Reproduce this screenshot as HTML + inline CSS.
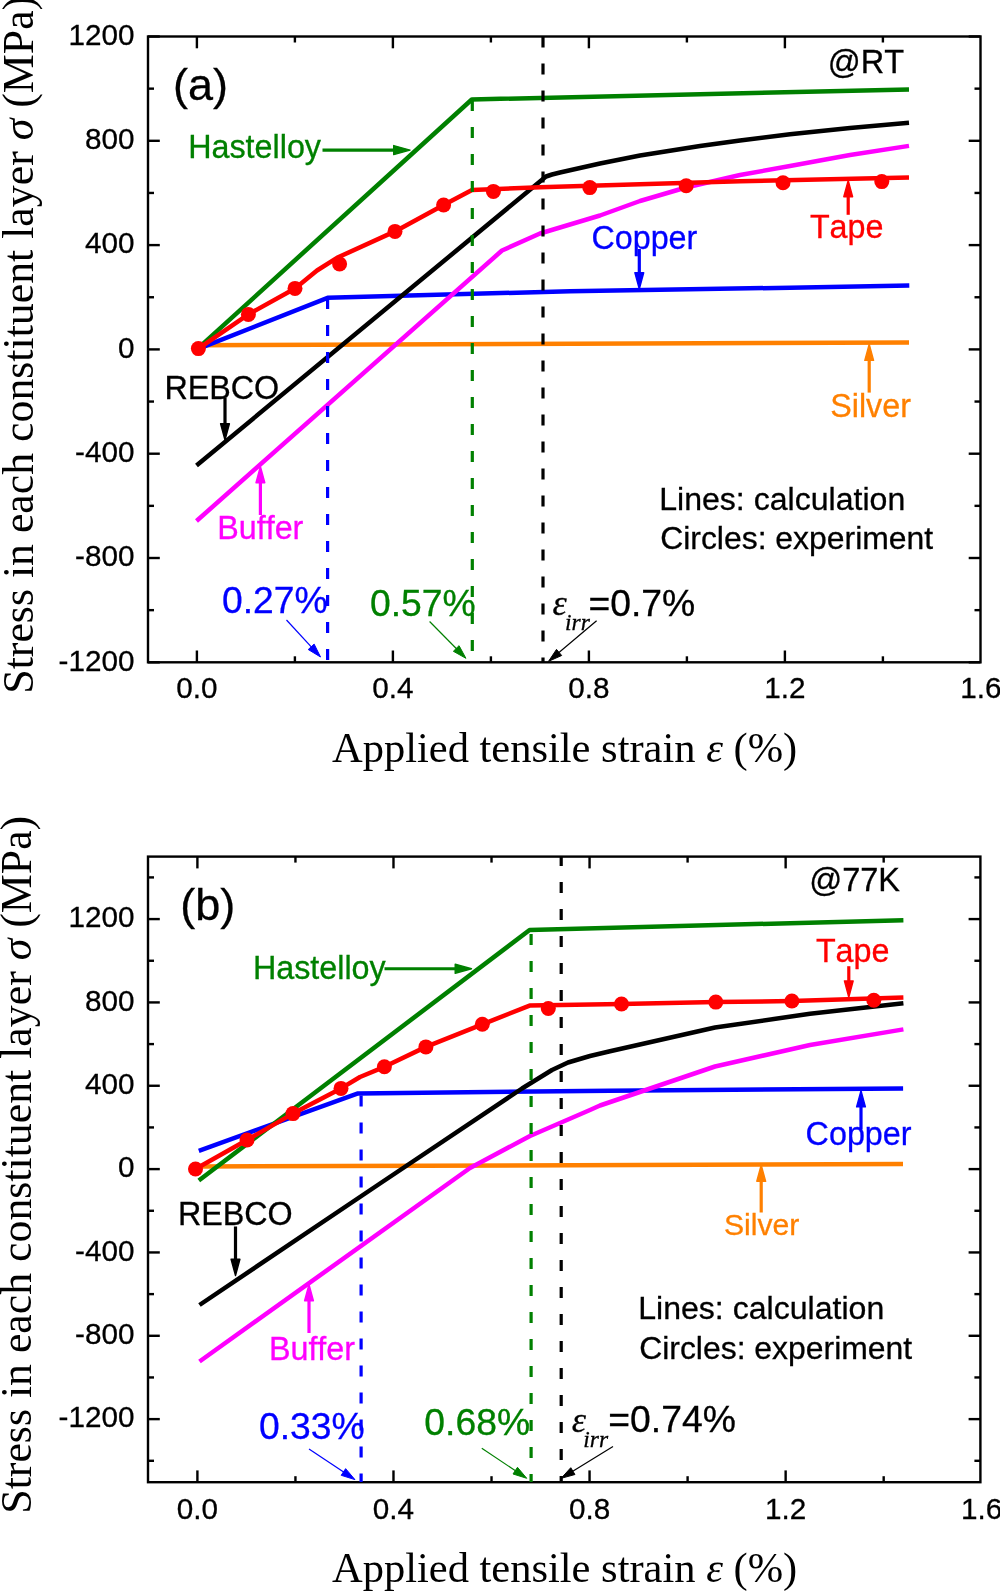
<!DOCTYPE html>
<html><head><meta charset="utf-8"><style>
html,body{margin:0;padding:0;background:#fff;}
svg{display:block;will-change:transform;} text{font-kerning:none;}
</style></head><body>
<svg width="1000" height="1591" viewBox="0 0 1000 1591">
<rect width="1000" height="1591" fill="#fff"/>
<rect x="148" y="36.5" width="832.5" height="625.8" fill="none" stroke="#000" stroke-width="2.4"/>
<line x1="196.9" y1="662.3" x2="196.9" y2="650.5" stroke="#000000" stroke-width="2.4" />
<line x1="196.9" y1="36.5" x2="196.9" y2="48.3" stroke="#000000" stroke-width="2.4" />
<line x1="294.9" y1="662.3" x2="294.9" y2="656.3" stroke="#000000" stroke-width="2.4" />
<line x1="294.9" y1="36.5" x2="294.9" y2="42.5" stroke="#000000" stroke-width="2.4" />
<line x1="392.9" y1="662.3" x2="392.9" y2="650.5" stroke="#000000" stroke-width="2.4" />
<line x1="392.9" y1="36.5" x2="392.9" y2="48.3" stroke="#000000" stroke-width="2.4" />
<line x1="490.9" y1="662.3" x2="490.9" y2="656.3" stroke="#000000" stroke-width="2.4" />
<line x1="490.9" y1="36.5" x2="490.9" y2="42.5" stroke="#000000" stroke-width="2.4" />
<line x1="588.9" y1="662.3" x2="588.9" y2="650.5" stroke="#000000" stroke-width="2.4" />
<line x1="588.9" y1="36.5" x2="588.9" y2="48.3" stroke="#000000" stroke-width="2.4" />
<line x1="686.9" y1="662.3" x2="686.9" y2="656.3" stroke="#000000" stroke-width="2.4" />
<line x1="686.9" y1="36.5" x2="686.9" y2="42.5" stroke="#000000" stroke-width="2.4" />
<line x1="784.9" y1="662.3" x2="784.9" y2="650.5" stroke="#000000" stroke-width="2.4" />
<line x1="784.9" y1="36.5" x2="784.9" y2="48.3" stroke="#000000" stroke-width="2.4" />
<line x1="882.9" y1="662.3" x2="882.9" y2="656.3" stroke="#000000" stroke-width="2.4" />
<line x1="882.9" y1="36.5" x2="882.9" y2="42.5" stroke="#000000" stroke-width="2.4" />
<line x1="148" y1="662.3" x2="159.8" y2="662.3" stroke="#000000" stroke-width="2.4" />
<line x1="980.5" y1="662.3" x2="968.7" y2="662.3" stroke="#000000" stroke-width="2.4" />
<line x1="148" y1="558" x2="159.8" y2="558" stroke="#000000" stroke-width="2.4" />
<line x1="980.5" y1="558" x2="968.7" y2="558" stroke="#000000" stroke-width="2.4" />
<line x1="148" y1="453.7" x2="159.8" y2="453.7" stroke="#000000" stroke-width="2.4" />
<line x1="980.5" y1="453.7" x2="968.7" y2="453.7" stroke="#000000" stroke-width="2.4" />
<line x1="148" y1="349.4" x2="159.8" y2="349.4" stroke="#000000" stroke-width="2.4" />
<line x1="980.5" y1="349.4" x2="968.7" y2="349.4" stroke="#000000" stroke-width="2.4" />
<line x1="148" y1="245.1" x2="159.8" y2="245.1" stroke="#000000" stroke-width="2.4" />
<line x1="980.5" y1="245.1" x2="968.7" y2="245.1" stroke="#000000" stroke-width="2.4" />
<line x1="148" y1="140.8" x2="159.8" y2="140.8" stroke="#000000" stroke-width="2.4" />
<line x1="980.5" y1="140.8" x2="968.7" y2="140.8" stroke="#000000" stroke-width="2.4" />
<line x1="148" y1="36.5" x2="159.8" y2="36.5" stroke="#000000" stroke-width="2.4" />
<line x1="980.5" y1="36.5" x2="968.7" y2="36.5" stroke="#000000" stroke-width="2.4" />
<line x1="148" y1="610.15" x2="154" y2="610.15" stroke="#000000" stroke-width="2.4" />
<line x1="980.5" y1="610.15" x2="974.5" y2="610.15" stroke="#000000" stroke-width="2.4" />
<line x1="148" y1="505.85" x2="154" y2="505.85" stroke="#000000" stroke-width="2.4" />
<line x1="980.5" y1="505.85" x2="974.5" y2="505.85" stroke="#000000" stroke-width="2.4" />
<line x1="148" y1="401.55" x2="154" y2="401.55" stroke="#000000" stroke-width="2.4" />
<line x1="980.5" y1="401.55" x2="974.5" y2="401.55" stroke="#000000" stroke-width="2.4" />
<line x1="148" y1="297.25" x2="154" y2="297.25" stroke="#000000" stroke-width="2.4" />
<line x1="980.5" y1="297.25" x2="974.5" y2="297.25" stroke="#000000" stroke-width="2.4" />
<line x1="148" y1="192.95" x2="154" y2="192.95" stroke="#000000" stroke-width="2.4" />
<line x1="980.5" y1="192.95" x2="974.5" y2="192.95" stroke="#000000" stroke-width="2.4" />
<line x1="148" y1="88.65" x2="154" y2="88.65" stroke="#000000" stroke-width="2.4" />
<line x1="980.5" y1="88.65" x2="974.5" y2="88.65" stroke="#000000" stroke-width="2.4" />
<text x="134.5" y="44.8" font-family='"Liberation Sans", sans-serif' font-size="29.7" fill="#000000" stroke="#000000" stroke-width="0.3" text-anchor="end" >1200</text>
<text x="134.5" y="149.1" font-family='"Liberation Sans", sans-serif' font-size="29.7" fill="#000000" stroke="#000000" stroke-width="0.3" text-anchor="end" >800</text>
<text x="134.5" y="253.4" font-family='"Liberation Sans", sans-serif' font-size="29.7" fill="#000000" stroke="#000000" stroke-width="0.3" text-anchor="end" >400</text>
<text x="134.5" y="357.7" font-family='"Liberation Sans", sans-serif' font-size="29.7" fill="#000000" stroke="#000000" stroke-width="0.3" text-anchor="end" >0</text>
<text x="134.5" y="462" font-family='"Liberation Sans", sans-serif' font-size="29.7" fill="#000000" stroke="#000000" stroke-width="0.3" text-anchor="end" >-400</text>
<text x="134.5" y="566.3" font-family='"Liberation Sans", sans-serif' font-size="29.7" fill="#000000" stroke="#000000" stroke-width="0.3" text-anchor="end" >-800</text>
<text x="134.5" y="670.6" font-family='"Liberation Sans", sans-serif' font-size="29.7" fill="#000000" stroke="#000000" stroke-width="0.3" text-anchor="end" >-1200</text>
<text x="196.9" y="698.1" font-family='"Liberation Sans", sans-serif' font-size="29.7" fill="#000000" stroke="#000000" stroke-width="0.3" text-anchor="middle" >0.0</text>
<text x="392.9" y="698.1" font-family='"Liberation Sans", sans-serif' font-size="29.7" fill="#000000" stroke="#000000" stroke-width="0.3" text-anchor="middle" >0.4</text>
<text x="588.9" y="698.1" font-family='"Liberation Sans", sans-serif' font-size="29.7" fill="#000000" stroke="#000000" stroke-width="0.3" text-anchor="middle" >0.8</text>
<text x="784.9" y="698.1" font-family='"Liberation Sans", sans-serif' font-size="29.7" fill="#000000" stroke="#000000" stroke-width="0.3" text-anchor="middle" >1.2</text>
<text x="980.9" y="698.1" font-family='"Liberation Sans", sans-serif' font-size="29.7" fill="#000000" stroke="#000000" stroke-width="0.3" text-anchor="middle" >1.6</text>
<path d="M196.9 345.2 L909 342.5" fill="none" stroke="#FF8000" stroke-width="4.5" stroke-linejoin="round" />
<path d="M196.9 349.4 L327.6 297.8 L570 291.2 L790 287.7 L909.3 285.6" fill="none" stroke="#0000FF" stroke-width="4.5" stroke-linejoin="round" />
<path d="M196.9 349.4 L471.8 99.5 L909 89.4" fill="none" stroke="#008000" stroke-width="4.5" stroke-linejoin="round" />
<path d="M196.5 465.5 L546 176.5 L552 174.5 L560 172.5 L600 163.5 L640 155.5 L700 146 L740 140.5 L790 134.3 L850 128 L909 122.8" fill="none" stroke="#000000" stroke-width="4.5" stroke-linejoin="round" />
<path d="M196.5 521 L502 250.5 L540 233.5 L600 215.5 L640 201 L686 187.5 L740 175 L790 166 L850 155 L909 145.9" fill="none" stroke="#FF00FF" stroke-width="4.5" stroke-linejoin="round" />
<path d="M198.4 348.6 L248.4 314.4 L295 288.5 L317 270.5 L337 257.8 L395 231.4 L443.6 205 L472 190 L540 187.2 L740 181.2 L909 177.6" fill="none" stroke="#FF0000" stroke-width="4.5" stroke-linejoin="round" />
<line x1="327.6" y1="298" x2="327.6" y2="662" stroke="#0000FF" stroke-width="3.2" stroke-dasharray="11 16" stroke-dashoffset="0"/>
<line x1="472.3" y1="100" x2="472.3" y2="662" stroke="#008000" stroke-width="3.2" stroke-dasharray="11 16" stroke-dashoffset="0"/>
<line x1="543" y1="36.5" x2="543" y2="662" stroke="#000000" stroke-width="3.2" stroke-dasharray="11 16" stroke-dashoffset="0"/>
<circle cx="198.4" cy="348.6" r="7.5" fill="#FF0000"/>
<circle cx="248.4" cy="314.4" r="7.5" fill="#FF0000"/>
<circle cx="295" cy="288.4" r="7.5" fill="#FF0000"/>
<circle cx="339.6" cy="264" r="7.5" fill="#FF0000"/>
<circle cx="395" cy="231.4" r="7.5" fill="#FF0000"/>
<circle cx="443.6" cy="205" r="7.5" fill="#FF0000"/>
<circle cx="493.4" cy="191.4" r="7.5" fill="#FF0000"/>
<circle cx="589.8" cy="187.6" r="7.5" fill="#FF0000"/>
<circle cx="686.2" cy="185.8" r="7.5" fill="#FF0000"/>
<circle cx="783" cy="182.8" r="7.5" fill="#FF0000"/>
<circle cx="881.8" cy="181.6" r="7.5" fill="#FF0000"/>
<text x="172.9" y="99.5" font-family='"Liberation Sans", sans-serif' font-size="45" fill="#000000" stroke="#000000" stroke-width="0.3" text-anchor="start" >(a)</text>
<text x="188.2" y="157.9" font-family='"Liberation Sans", sans-serif' font-size="32.3" fill="#008000" stroke="#008000" stroke-width="0.3" text-anchor="start" >Hastelloy</text>
<line x1="322.5" y1="150.1" x2="396" y2="150.1" stroke="#008000" stroke-width="3.2" />
<path d="M410.02 150.1 L393.7 154.65 L393.7 145.55 Z" fill="#008000" stroke="#008000" stroke-width="1.4" stroke-linejoin="round"/>
<text x="827.8" y="73" font-family='"Liberation Sans", sans-serif' font-size="32.5" fill="#000000" stroke="#000000" stroke-width="0.3" text-anchor="start" >@RT</text>
<text x="809.9" y="238" font-family='"Liberation Sans", sans-serif' font-size="32.3" fill="#FF0000" stroke="#FF0000" stroke-width="0.3" text-anchor="start" >Tape</text>
<line x1="848.2" y1="214.8" x2="848.2" y2="194.5" stroke="#FF0000" stroke-width="3.2" />
<path d="M848.2 180.48 L852.6 196.8 L843.8 196.8 Z" fill="#FF0000" stroke="#FF0000" stroke-width="1.4" stroke-linejoin="round"/>
<text x="591.4" y="248.8" font-family='"Liberation Sans", sans-serif' font-size="32.3" fill="#0000FF" stroke="#0000FF" stroke-width="0.3" text-anchor="start" >Copper</text>
<line x1="639.3" y1="249" x2="639.3" y2="275" stroke="#0000FF" stroke-width="3.2" />
<path d="M639.3 289.02 L634.9 272.7 L643.7 272.7 Z" fill="#0000FF" stroke="#0000FF" stroke-width="1.4" stroke-linejoin="round"/>
<text x="164.4" y="399.3" font-family='"Liberation Sans", sans-serif' font-size="32.3" fill="#000000" stroke="#000000" stroke-width="0.3" text-anchor="start" >REBCO</text>
<line x1="225" y1="398" x2="225" y2="426" stroke="#000000" stroke-width="3.2" />
<path d="M225 440.02 L220.6 423.7 L229.4 423.7 Z" fill="#000000" stroke="#000000" stroke-width="1.4" stroke-linejoin="round"/>
<text x="830.2" y="416.7" font-family='"Liberation Sans", sans-serif' font-size="32.3" fill="#FF8000" stroke="#FF8000" stroke-width="0.3" text-anchor="start" >Silver</text>
<line x1="869.2" y1="392.6" x2="869.2" y2="358.1" stroke="#FF8000" stroke-width="3.2" />
<path d="M869.2 344.08 L873.6 360.4 L864.8 360.4 Z" fill="#FF8000" stroke="#FF8000" stroke-width="1.4" stroke-linejoin="round"/>
<text x="217.2" y="538.7" font-family='"Liberation Sans", sans-serif' font-size="32.3" fill="#FF00FF" stroke="#FF00FF" stroke-width="0.3" text-anchor="start" >Buffer</text>
<line x1="260.4" y1="515" x2="260.4" y2="480.5" stroke="#FF00FF" stroke-width="3.2" />
<path d="M260.4 466.48 L264.8 482.8 L256 482.8 Z" fill="#FF00FF" stroke="#FF00FF" stroke-width="1.4" stroke-linejoin="round"/>
<text x="659.2" y="510" font-family='"Liberation Sans", sans-serif' font-size="32.1" fill="#000000" stroke="#000000" stroke-width="0.3" text-anchor="start" >Lines: calculation</text>
<text x="660.2" y="549.4" font-family='"Liberation Sans", sans-serif' font-size="31.9" fill="#000000" stroke="#000000" stroke-width="0.3" text-anchor="start" >Circles: experiment</text>
<text x="222" y="613.4" font-family='"Liberation Sans", sans-serif' font-size="37.3" fill="#0000FF" stroke="#0000FF" stroke-width="0.3" text-anchor="start" >0.27%</text>
<line x1="286.5" y1="620" x2="312.88" y2="648.67" stroke="#0000FF" stroke-width="1.2" />
<path d="M320.53 656.98 L308.24 649.54 L314.13 644.12 Z" fill="#0000FF" stroke="#0000FF" stroke-width="1.0" stroke-linejoin="round"/>
<text x="370" y="616.4" font-family='"Liberation Sans", sans-serif' font-size="37.3" fill="#008000" stroke="#008000" stroke-width="0.3" text-anchor="start" >0.57%</text>
<line x1="429.6" y1="621.5" x2="457.97" y2="650.26" stroke="#008000" stroke-width="1.2" />
<path d="M465.91 658.3 L453.37 651.29 L459.06 645.67 Z" fill="#008000" stroke="#008000" stroke-width="1.0" stroke-linejoin="round"/>
<text x="552.5" y="615" font-family='"Liberation Serif", serif' font-size="36" fill="#000000" stroke="#000000" stroke-width="0.3" text-anchor="start" font-style="italic">ε</text>
<text x="565" y="630" font-family='"Liberation Serif", serif' font-size="23.5" fill="#000000" stroke="#000000" stroke-width="0.3" text-anchor="start" font-style="italic">irr</text>
<text x="588.4" y="616" font-family='"Liberation Sans", sans-serif' font-size="37.3" fill="#000000" stroke="#000000" stroke-width="0.3" text-anchor="start" >=0.7%</text>
<line x1="596.6" y1="620.8" x2="557.17" y2="654.06" stroke="#000000" stroke-width="1.2" />
<path d="M548.54 661.35 L556.5 649.39 L561.66 655.51 Z" fill="#000000" stroke="#000000" stroke-width="1.0" stroke-linejoin="round"/>
<text transform="translate(33,693.7) rotate(-90)" font-family='"Liberation Serif", serif' font-size="43.8" fill="#000">Stress in each constituent layer <tspan font-style="italic">σ</tspan> (MPa)</text>
<text x="332" y="761.5" font-family='"Liberation Serif", serif' font-size="42.5" fill="#000">Applied tensile strain <tspan font-style="italic">ε</tspan> (%)</text>
<rect x="148" y="856.6" width="832.4" height="625.6" fill="none" stroke="#000" stroke-width="2.4"/>
<line x1="197.4" y1="1482.2" x2="197.4" y2="1470.4" stroke="#000000" stroke-width="2.4" />
<line x1="197.4" y1="856.6" x2="197.4" y2="868.4" stroke="#000000" stroke-width="2.4" />
<line x1="295.44" y1="1482.2" x2="295.44" y2="1476.2" stroke="#000000" stroke-width="2.4" />
<line x1="295.44" y1="856.6" x2="295.44" y2="862.6" stroke="#000000" stroke-width="2.4" />
<line x1="393.48" y1="1482.2" x2="393.48" y2="1470.4" stroke="#000000" stroke-width="2.4" />
<line x1="393.48" y1="856.6" x2="393.48" y2="868.4" stroke="#000000" stroke-width="2.4" />
<line x1="491.52" y1="1482.2" x2="491.52" y2="1476.2" stroke="#000000" stroke-width="2.4" />
<line x1="491.52" y1="856.6" x2="491.52" y2="862.6" stroke="#000000" stroke-width="2.4" />
<line x1="589.56" y1="1482.2" x2="589.56" y2="1470.4" stroke="#000000" stroke-width="2.4" />
<line x1="589.56" y1="856.6" x2="589.56" y2="868.4" stroke="#000000" stroke-width="2.4" />
<line x1="687.6" y1="1482.2" x2="687.6" y2="1476.2" stroke="#000000" stroke-width="2.4" />
<line x1="687.6" y1="856.6" x2="687.6" y2="862.6" stroke="#000000" stroke-width="2.4" />
<line x1="785.64" y1="1482.2" x2="785.64" y2="1470.4" stroke="#000000" stroke-width="2.4" />
<line x1="785.64" y1="856.6" x2="785.64" y2="868.4" stroke="#000000" stroke-width="2.4" />
<line x1="883.68" y1="1482.2" x2="883.68" y2="1476.2" stroke="#000000" stroke-width="2.4" />
<line x1="883.68" y1="856.6" x2="883.68" y2="862.6" stroke="#000000" stroke-width="2.4" />
<line x1="148" y1="1419.12" x2="159.8" y2="1419.12" stroke="#000000" stroke-width="2.4" />
<line x1="980.4" y1="1419.12" x2="968.6" y2="1419.12" stroke="#000000" stroke-width="2.4" />
<line x1="148" y1="1335.78" x2="159.8" y2="1335.78" stroke="#000000" stroke-width="2.4" />
<line x1="980.4" y1="1335.78" x2="968.6" y2="1335.78" stroke="#000000" stroke-width="2.4" />
<line x1="148" y1="1252.44" x2="159.8" y2="1252.44" stroke="#000000" stroke-width="2.4" />
<line x1="980.4" y1="1252.44" x2="968.6" y2="1252.44" stroke="#000000" stroke-width="2.4" />
<line x1="148" y1="1169.1" x2="159.8" y2="1169.1" stroke="#000000" stroke-width="2.4" />
<line x1="980.4" y1="1169.1" x2="968.6" y2="1169.1" stroke="#000000" stroke-width="2.4" />
<line x1="148" y1="1085.76" x2="159.8" y2="1085.76" stroke="#000000" stroke-width="2.4" />
<line x1="980.4" y1="1085.76" x2="968.6" y2="1085.76" stroke="#000000" stroke-width="2.4" />
<line x1="148" y1="1002.42" x2="159.8" y2="1002.42" stroke="#000000" stroke-width="2.4" />
<line x1="980.4" y1="1002.42" x2="968.6" y2="1002.42" stroke="#000000" stroke-width="2.4" />
<line x1="148" y1="919.08" x2="159.8" y2="919.08" stroke="#000000" stroke-width="2.4" />
<line x1="980.4" y1="919.08" x2="968.6" y2="919.08" stroke="#000000" stroke-width="2.4" />
<line x1="148" y1="1460.79" x2="154" y2="1460.79" stroke="#000000" stroke-width="2.4" />
<line x1="980.4" y1="1460.79" x2="974.4" y2="1460.79" stroke="#000000" stroke-width="2.4" />
<line x1="148" y1="1377.45" x2="154" y2="1377.45" stroke="#000000" stroke-width="2.4" />
<line x1="980.4" y1="1377.45" x2="974.4" y2="1377.45" stroke="#000000" stroke-width="2.4" />
<line x1="148" y1="1294.11" x2="154" y2="1294.11" stroke="#000000" stroke-width="2.4" />
<line x1="980.4" y1="1294.11" x2="974.4" y2="1294.11" stroke="#000000" stroke-width="2.4" />
<line x1="148" y1="1210.77" x2="154" y2="1210.77" stroke="#000000" stroke-width="2.4" />
<line x1="980.4" y1="1210.77" x2="974.4" y2="1210.77" stroke="#000000" stroke-width="2.4" />
<line x1="148" y1="1127.43" x2="154" y2="1127.43" stroke="#000000" stroke-width="2.4" />
<line x1="980.4" y1="1127.43" x2="974.4" y2="1127.43" stroke="#000000" stroke-width="2.4" />
<line x1="148" y1="1044.09" x2="154" y2="1044.09" stroke="#000000" stroke-width="2.4" />
<line x1="980.4" y1="1044.09" x2="974.4" y2="1044.09" stroke="#000000" stroke-width="2.4" />
<line x1="148" y1="960.75" x2="154" y2="960.75" stroke="#000000" stroke-width="2.4" />
<line x1="980.4" y1="960.75" x2="974.4" y2="960.75" stroke="#000000" stroke-width="2.4" />
<line x1="148" y1="877.41" x2="154" y2="877.41" stroke="#000000" stroke-width="2.4" />
<line x1="980.4" y1="877.41" x2="974.4" y2="877.41" stroke="#000000" stroke-width="2.4" />
<text x="134.5" y="927.38" font-family='"Liberation Sans", sans-serif' font-size="29.7" fill="#000000" stroke="#000000" stroke-width="0.3" text-anchor="end" >1200</text>
<text x="134.5" y="1010.72" font-family='"Liberation Sans", sans-serif' font-size="29.7" fill="#000000" stroke="#000000" stroke-width="0.3" text-anchor="end" >800</text>
<text x="134.5" y="1094.06" font-family='"Liberation Sans", sans-serif' font-size="29.7" fill="#000000" stroke="#000000" stroke-width="0.3" text-anchor="end" >400</text>
<text x="134.5" y="1177.4" font-family='"Liberation Sans", sans-serif' font-size="29.7" fill="#000000" stroke="#000000" stroke-width="0.3" text-anchor="end" >0</text>
<text x="134.5" y="1260.74" font-family='"Liberation Sans", sans-serif' font-size="29.7" fill="#000000" stroke="#000000" stroke-width="0.3" text-anchor="end" >-400</text>
<text x="134.5" y="1344.08" font-family='"Liberation Sans", sans-serif' font-size="29.7" fill="#000000" stroke="#000000" stroke-width="0.3" text-anchor="end" >-800</text>
<text x="134.5" y="1427.42" font-family='"Liberation Sans", sans-serif' font-size="29.7" fill="#000000" stroke="#000000" stroke-width="0.3" text-anchor="end" >-1200</text>
<text x="197.4" y="1518.6" font-family='"Liberation Sans", sans-serif' font-size="29.7" fill="#000000" stroke="#000000" stroke-width="0.3" text-anchor="middle" >0.0</text>
<text x="393.48" y="1518.6" font-family='"Liberation Sans", sans-serif' font-size="29.7" fill="#000000" stroke="#000000" stroke-width="0.3" text-anchor="middle" >0.4</text>
<text x="589.56" y="1518.6" font-family='"Liberation Sans", sans-serif' font-size="29.7" fill="#000000" stroke="#000000" stroke-width="0.3" text-anchor="middle" >0.8</text>
<text x="785.64" y="1518.6" font-family='"Liberation Sans", sans-serif' font-size="29.7" fill="#000000" stroke="#000000" stroke-width="0.3" text-anchor="middle" >1.2</text>
<text x="981.72" y="1518.6" font-family='"Liberation Sans", sans-serif' font-size="29.7" fill="#000000" stroke="#000000" stroke-width="0.3" text-anchor="middle" >1.6</text>
<path d="M197.4 1166.5 L903 1164" fill="none" stroke="#FF8000" stroke-width="4.5" stroke-linejoin="round" />
<path d="M198.8 1150.8 L358 1093.4 L610 1090.8 L903.1 1088.5" fill="none" stroke="#0000FF" stroke-width="4.5" stroke-linejoin="round" />
<path d="M198.8 1180.5 L529.6 930 L903.4 920.2" fill="none" stroke="#008000" stroke-width="4.5" stroke-linejoin="round" />
<path d="M199.5 1305 L380 1183.5 L522 1088.5 L552 1070 L568 1062.5 L590 1056 L610 1051.2 L715 1027.5 L810 1013.8 L903.4 1003.3" fill="none" stroke="#000000" stroke-width="4.5" stroke-linejoin="round" />
<path d="M199.5 1361.5 L470 1168 L530 1136 L590 1110 L600 1105.5 L715 1066.5 L810 1045 L903.4 1029.4" fill="none" stroke="#FF00FF" stroke-width="4.5" stroke-linejoin="round" />
<path d="M195.5 1169 L247 1140 L293 1113.6 L341 1088.4 L360 1077 L384.4 1066.8 L425.9 1046.9 L482.3 1024.3 L529.6 1005.6 L621.5 1004 L715.8 1002.1 L791.9 1001 L903.4 997.4" fill="none" stroke="#FF0000" stroke-width="4.5" stroke-linejoin="round" />
<line x1="361.1" y1="1095.4" x2="361.1" y2="1482" stroke="#0000FF" stroke-width="3.2" stroke-dasharray="11 16" stroke-dashoffset="0"/>
<line x1="531.1" y1="934" x2="531.1" y2="1482" stroke="#008000" stroke-width="3.2" stroke-dasharray="11 16" stroke-dashoffset="0"/>
<line x1="561.2" y1="856.6" x2="561.2" y2="1482" stroke="#000000" stroke-width="3.2" stroke-dasharray="11 16" stroke-dashoffset="1.5"/>
<circle cx="195.5" cy="1169" r="7.5" fill="#FF0000"/>
<circle cx="247" cy="1140" r="7.5" fill="#FF0000"/>
<circle cx="293" cy="1113.6" r="7.5" fill="#FF0000"/>
<circle cx="341" cy="1088.4" r="7.5" fill="#FF0000"/>
<circle cx="384.4" cy="1066.8" r="7.5" fill="#FF0000"/>
<circle cx="425.9" cy="1046.9" r="7.5" fill="#FF0000"/>
<circle cx="482.3" cy="1024.3" r="7.5" fill="#FF0000"/>
<circle cx="548.3" cy="1008.5" r="7.5" fill="#FF0000"/>
<circle cx="621.5" cy="1004" r="7.5" fill="#FF0000"/>
<circle cx="715.8" cy="1002.1" r="7.5" fill="#FF0000"/>
<circle cx="791.9" cy="1001" r="7.5" fill="#FF0000"/>
<circle cx="873.8" cy="1000.2" r="7.5" fill="#FF0000"/>
<text x="180.3" y="920" font-family='"Liberation Sans", sans-serif' font-size="45" fill="#000000" stroke="#000000" stroke-width="0.3" text-anchor="start" >(b)</text>
<text x="252.9" y="979.25" font-family='"Liberation Sans", sans-serif' font-size="32.3" fill="#008000" stroke="#008000" stroke-width="0.3" text-anchor="start" >Hastelloy</text>
<line x1="384.5" y1="968.75" x2="457.5" y2="968.75" stroke="#008000" stroke-width="3.2" />
<path d="M471.52 968.75 L455.2 973.3 L455.2 964.2 Z" fill="#008000" stroke="#008000" stroke-width="1.4" stroke-linejoin="round"/>
<text x="809.2" y="891" font-family='"Liberation Sans", sans-serif' font-size="32.5" fill="#000000" stroke="#000000" stroke-width="0.3" text-anchor="start" >@77K</text>
<text x="815.9" y="962.3" font-family='"Liberation Sans", sans-serif' font-size="32.3" fill="#FF0000" stroke="#FF0000" stroke-width="0.3" text-anchor="start" >Tape</text>
<line x1="848.8" y1="966.2" x2="848.8" y2="983.2" stroke="#FF0000" stroke-width="3.2" />
<path d="M848.8 997.22 L844.4 980.9 L853.2 980.9 Z" fill="#FF0000" stroke="#FF0000" stroke-width="1.4" stroke-linejoin="round"/>
<text x="805.6" y="1144.6" font-family='"Liberation Sans", sans-serif' font-size="32.3" fill="#0000FF" stroke="#0000FF" stroke-width="0.3" text-anchor="start" >Copper</text>
<line x1="861" y1="1129" x2="861" y2="1104.6" stroke="#0000FF" stroke-width="3.2" />
<path d="M861 1090.58 L865.4 1106.9 L856.6 1106.9 Z" fill="#0000FF" stroke="#0000FF" stroke-width="1.4" stroke-linejoin="round"/>
<text x="177.9" y="1225" font-family='"Liberation Sans", sans-serif' font-size="32.3" fill="#000000" stroke="#000000" stroke-width="0.3" text-anchor="start" >REBCO</text>
<line x1="235.5" y1="1226.5" x2="235.5" y2="1261.6" stroke="#000000" stroke-width="3.2" />
<path d="M235.5 1275.62 L231.1 1259.3 L239.9 1259.3 Z" fill="#000000" stroke="#000000" stroke-width="1.4" stroke-linejoin="round"/>
<text x="723.9" y="1234.5" font-family='"Liberation Sans", sans-serif' font-size="30.2" fill="#FF8000" stroke="#FF8000" stroke-width="0.3" text-anchor="start" >Silver</text>
<line x1="761.2" y1="1212.5" x2="761.2" y2="1179" stroke="#FF8000" stroke-width="3.2" />
<path d="M761.2 1164.98 L765.6 1181.3 L756.8 1181.3 Z" fill="#FF8000" stroke="#FF8000" stroke-width="1.4" stroke-linejoin="round"/>
<text x="268.9" y="1360" font-family='"Liberation Sans", sans-serif' font-size="32.3" fill="#FF00FF" stroke="#FF00FF" stroke-width="0.3" text-anchor="start" >Buffer</text>
<line x1="309" y1="1333" x2="309" y2="1298.5" stroke="#FF00FF" stroke-width="3.2" />
<path d="M309 1284.48 L313.4 1300.8 L304.6 1300.8 Z" fill="#FF00FF" stroke="#FF00FF" stroke-width="1.4" stroke-linejoin="round"/>
<text x="638.2" y="1318.7" font-family='"Liberation Sans", sans-serif' font-size="32.1" fill="#000000" stroke="#000000" stroke-width="0.3" text-anchor="start" >Lines: calculation</text>
<text x="639.2" y="1358.7" font-family='"Liberation Sans", sans-serif' font-size="31.9" fill="#000000" stroke="#000000" stroke-width="0.3" text-anchor="start" >Circles: experiment</text>
<text x="258.9" y="1439.2" font-family='"Liberation Sans", sans-serif' font-size="37.3" fill="#0000FF" stroke="#0000FF" stroke-width="0.3" text-anchor="start" >0.33%</text>
<line x1="309" y1="1449.1" x2="345.51" y2="1473.36" stroke="#0000FF" stroke-width="1.2" />
<path d="M354.92 1479.61 L341.21 1475.31 L345.64 1468.64 Z" fill="#0000FF" stroke="#0000FF" stroke-width="1.0" stroke-linejoin="round"/>
<text x="424.3" y="1435.3" font-family='"Liberation Sans", sans-serif' font-size="37.3" fill="#008000" stroke="#008000" stroke-width="0.3" text-anchor="start" >0.68%</text>
<line x1="481.8" y1="1448.3" x2="517.32" y2="1472.03" stroke="#008000" stroke-width="1.2" />
<path d="M526.72 1478.31 L513.02 1473.97 L517.47 1467.32 Z" fill="#008000" stroke="#008000" stroke-width="1.0" stroke-linejoin="round"/>
<text x="571.7" y="1431.8" font-family='"Liberation Serif", serif' font-size="36" fill="#000000" stroke="#000000" stroke-width="0.3" text-anchor="start" font-style="italic">ε</text>
<text x="583.3" y="1447" font-family='"Liberation Serif", serif' font-size="23.5" fill="#000000" stroke="#000000" stroke-width="0.3" text-anchor="start" font-style="italic">irr</text>
<text x="608.3" y="1431.8" font-family='"Liberation Sans", sans-serif' font-size="37.3" fill="#000000" stroke="#000000" stroke-width="0.3" text-anchor="start" >=0.74%</text>
<line x1="613" y1="1446.5" x2="570.73" y2="1472.43" stroke="#000000" stroke-width="1.2" />
<path d="M561.1 1478.33 L570.77 1467.71 L574.95 1474.53 Z" fill="#000000" stroke="#000000" stroke-width="1.0" stroke-linejoin="round"/>
<text transform="translate(30.7,1513.7) rotate(-90)" font-family='"Liberation Serif", serif' font-size="43.8" fill="#000">Stress in each constituent layer <tspan font-style="italic">σ</tspan> (MPa)</text>
<text x="332" y="1581.5" font-family='"Liberation Serif", serif' font-size="42.5" fill="#000">Applied tensile strain <tspan font-style="italic">ε</tspan> (%)</text>
</svg>
</body></html>
